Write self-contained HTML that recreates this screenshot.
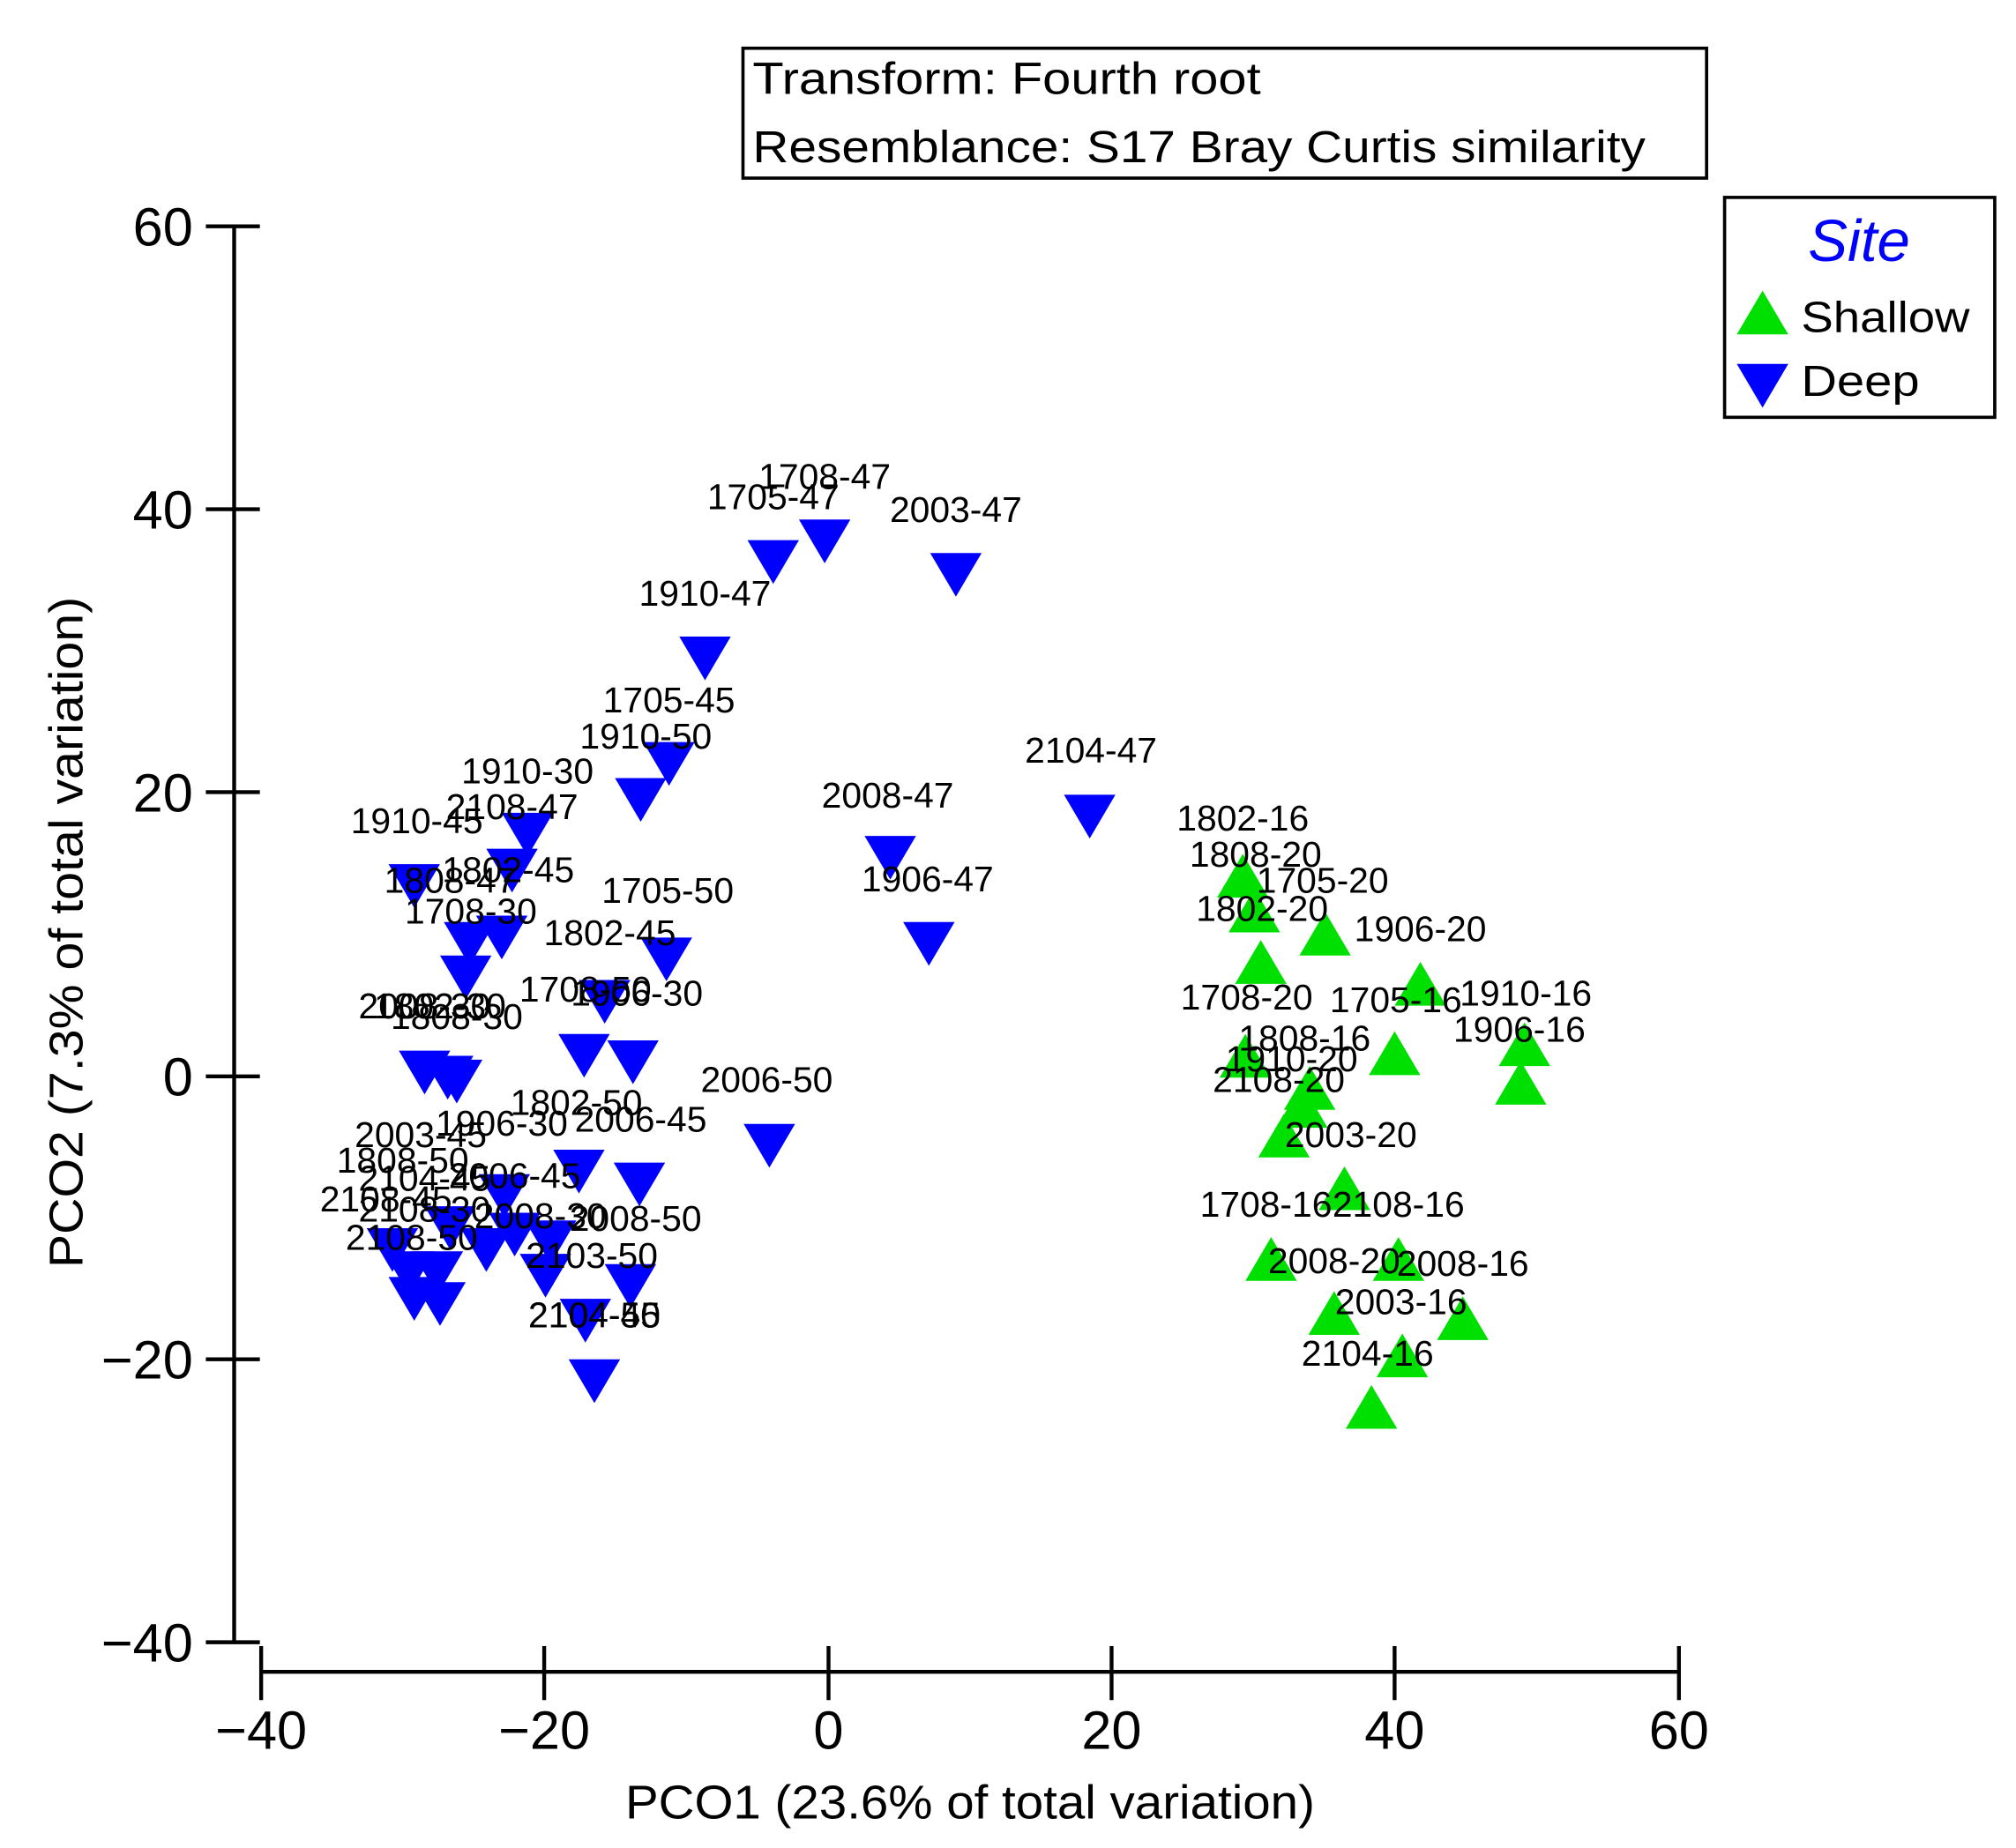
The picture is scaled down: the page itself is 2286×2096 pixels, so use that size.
<!DOCTYPE html>
<html><head><style>html,body{margin:0;padding:0;background:#fff}svg{display:block}</style></head>
<body>
<svg width="2286" height="2096" viewBox="0 0 1567 1437" preserveAspectRatio="none" xmlns="http://www.w3.org/2000/svg" font-family="Liberation Sans, Arial, sans-serif">
<defs>
<path id="dn" d="M-20,-17 L20,-17 L0,17 Z" fill="#0000ff"/>
<path id="up" d="M-20,17 L20,17 L0,-17 Z" fill="#00e000"/>
</defs>
<rect width="1567" height="1437" fill="#fff"/>
<!-- title box -->
<rect x="577.5" y="37.5" width="749" height="101" fill="none" stroke="#000" stroke-width="2.5"/>
<text x="585" y="73" font-size="35" textLength="395" lengthAdjust="spacingAndGlyphs">Transform: Fourth root</text>
<text x="585" y="126" font-size="35" textLength="694" lengthAdjust="spacingAndGlyphs">Resemblance: S17 Bray Curtis similarity</text>
<!-- legend -->
<rect x="1340.5" y="153.5" width="210" height="171" fill="none" stroke="#000" stroke-width="2.5"/>
<text x="1445" y="203" font-size="46" font-style="italic" fill="#0000ff" text-anchor="middle">Site</text>
<use href="#up" x="1370" y="243"/>
<text x="1400" y="258" font-size="34" textLength="131" lengthAdjust="spacingAndGlyphs">Shallow</text>
<use href="#dn" x="1370" y="300"/>
<text x="1400" y="308" font-size="34" textLength="92" lengthAdjust="spacingAndGlyphs">Deep</text>
<!-- axes -->
<g stroke="#000" stroke-width="3">
<line x1="182" y1="176" x2="182" y2="1277"/>
<line x1="160" y1="176" x2="202" y2="176"/>
<line x1="160" y1="396" x2="202" y2="396"/>
<line x1="160" y1="616" x2="202" y2="616"/>
<line x1="160" y1="837" x2="202" y2="837"/>
<line x1="160" y1="1057" x2="202" y2="1057"/>
<line x1="160" y1="1277" x2="202" y2="1277"/>
<line x1="203" y1="1300" x2="1305" y2="1300"/>
<line x1="203" y1="1280" x2="203" y2="1322"/>
<line x1="423" y1="1280" x2="423" y2="1322"/>
<line x1="644" y1="1280" x2="644" y2="1322"/>
<line x1="864" y1="1280" x2="864" y2="1322"/>
<line x1="1084" y1="1280" x2="1084" y2="1322"/>
<line x1="1305" y1="1280" x2="1305" y2="1322"/>
</g>
<g font-size="42" text-anchor="end">
<text x="150" y="191">60</text>
<text x="150" y="411">40</text>
<text x="150" y="631">20</text>
<text x="150" y="852">0</text>
<text x="150" y="1072">−20</text>
<text x="150" y="1292">−40</text>
</g>
<g font-size="42" text-anchor="middle">
<text x="203" y="1360">−40</text>
<text x="423" y="1360">−20</text>
<text x="644" y="1360">0</text>
<text x="864" y="1360">20</text>
<text x="1084" y="1360">40</text>
<text x="1305" y="1360">60</text>
</g>
<text x="486" y="1414" font-size="37" textLength="536" lengthAdjust="spacingAndGlyphs">PCO1 (23.6% of total variation)</text>
<text transform="translate(64,986) rotate(-90)" font-size="37" textLength="522" lengthAdjust="spacingAndGlyphs">PCO2 (7.3% of total variation)</text>
<!-- deep markers -->
<g>
<use href="#dn" x="641" y="421"/><use href="#dn" x="601" y="437"/><use href="#dn" x="743" y="447"/>
<use href="#dn" x="548" y="512"/><use href="#dn" x="520" y="594"/><use href="#dn" x="498" y="622"/>
<use href="#dn" x="847" y="635"/><use href="#dn" x="692" y="667"/><use href="#dn" x="722" y="734"/>
<use href="#dn" x="410" y="649"/><use href="#dn" x="398" y="677"/><use href="#dn" x="322" y="689"/>
<use href="#dn" x="390" y="729"/><use href="#dn" x="365" y="734"/><use href="#dn" x="362" y="760"/>
<use href="#dn" x="518" y="746"/><use href="#dn" x="470" y="779"/><use href="#dn" x="454" y="821"/>
<use href="#dn" x="492" y="826"/><use href="#dn" x="598" y="891"/>
<use href="#dn" x="330" y="834"/><use href="#dn" x="348" y="838"/><use href="#dn" x="355" y="841"/>
<use href="#dn" x="450" y="911"/><use href="#dn" x="497" y="921"/>
<use href="#dn" x="305" y="972"/><use href="#dn" x="318" y="990"/><use href="#dn" x="322" y="1010"/>
<use href="#dn" x="342" y="1014"/><use href="#dn" x="340" y="990"/><use href="#dn" x="378" y="972"/>
<use href="#dn" x="400" y="960"/><use href="#dn" x="428" y="966"/><use href="#dn" x="424" y="992"/>
<use href="#dn" x="455" y="1027"/><use href="#dn" x="490" y="1000"/><use href="#dn" x="462" y="1074"/>
<use href="#dn" x="392" y="930"/><use href="#dn" x="350" y="955"/>
</g>
<!-- shallow markers -->
<g>
<use href="#up" x="966" y="681"/><use href="#up" x="975" y="708"/><use href="#up" x="1030" y="726"/>
<use href="#up" x="980" y="748"/><use href="#up" x="1104" y="765"/><use href="#up" x="968" y="821"/>
<use href="#up" x="1084" y="819"/><use href="#up" x="1185" y="812"/><use href="#up" x="1182" y="842"/>
<use href="#up" x="1018" y="846"/><use href="#up" x="1012" y="860"/><use href="#up" x="998" y="883"/>
<use href="#up" x="1045" y="924"/><use href="#up" x="988" y="979"/><use href="#up" x="1087" y="979"/>
<use href="#up" x="1037" y="1021"/><use href="#up" x="1137" y="1025"/><use href="#up" x="1090" y="1054"/>
<use href="#up" x="1066" y="1094"/>
</g>
<!-- labels -->
<g font-size="28" text-anchor="middle">
<text x="641" y="380">1708-47</text><text x="601" y="396">1705-47</text><text x="743" y="406">2003-47</text>
<text x="548" y="471">1910-47</text><text x="520" y="554">1705-45</text><text x="502" y="582">1910-50</text>
<text x="848" y="593">2104-47</text><text x="690" y="628">2008-47</text><text x="721" y="693">1906-47</text>
<text x="410" y="609">1910-30</text><text x="398" y="637">2108-47</text><text x="324" y="648">1910-45</text>
<text x="395" y="686">1802-45</text><text x="350" y="694">1808-47</text><text x="366" y="718">1708-30</text>
<text x="519" y="702">1705-50</text><text x="474" y="735">1802-45</text><text x="455" y="779">1708-50</text>
<text x="495" y="782">1906-30</text><text x="596" y="849">2006-50</text>
<text x="330" y="792">2008-30</text><text x="342" y="792">1802-30</text><text x="355" y="800">1808-30</text>
<text x="448" y="867">1802-50</text><text x="498" y="880">2006-45</text>
<text x="327" y="892">2003-45</text><text x="390" y="883">1906-30</text>
<text x="313" y="912">1808-50</text><text x="330" y="926">2104-45</text><text x="400" y="924">2006-45</text>
<text x="300" y="942">2108-45</text><text x="330" y="950">2108-30</text><text x="420" y="955">2008-30</text>
<text x="494" y="957">2008-50</text><text x="320" y="972">2108-50</text><text x="460" y="986">2103-50</text>
<text x="462" y="1032">2104-50</text><text x="462" y="1032">2104-45</text>
<text x="966" y="646">1802-16</text><text x="976" y="674">1808-20</text><text x="1028" y="694">1705-20</text>
<text x="981" y="716">1802-20</text><text x="1104" y="732">1906-20</text><text x="969" y="785">1708-20</text>
<text x="1085" y="787">1705-16</text><text x="1186" y="782">1910-16</text><text x="1181" y="810">1906-16</text>
<text x="1014" y="817">1808-16</text><text x="1004" y="833">1910-20</text><text x="994" y="849">2108-20</text>
<text x="1050" y="892">2003-20</text><text x="984" y="946">1708-16</text><text x="1087" y="946">2108-16</text>
<text x="1037" y="990">2008-20</text><text x="1137" y="992">2008-16</text><text x="1089" y="1022">2003-16</text>
<text x="1063" y="1062">2104-16</text>
</g>
</svg>
</body></html>
